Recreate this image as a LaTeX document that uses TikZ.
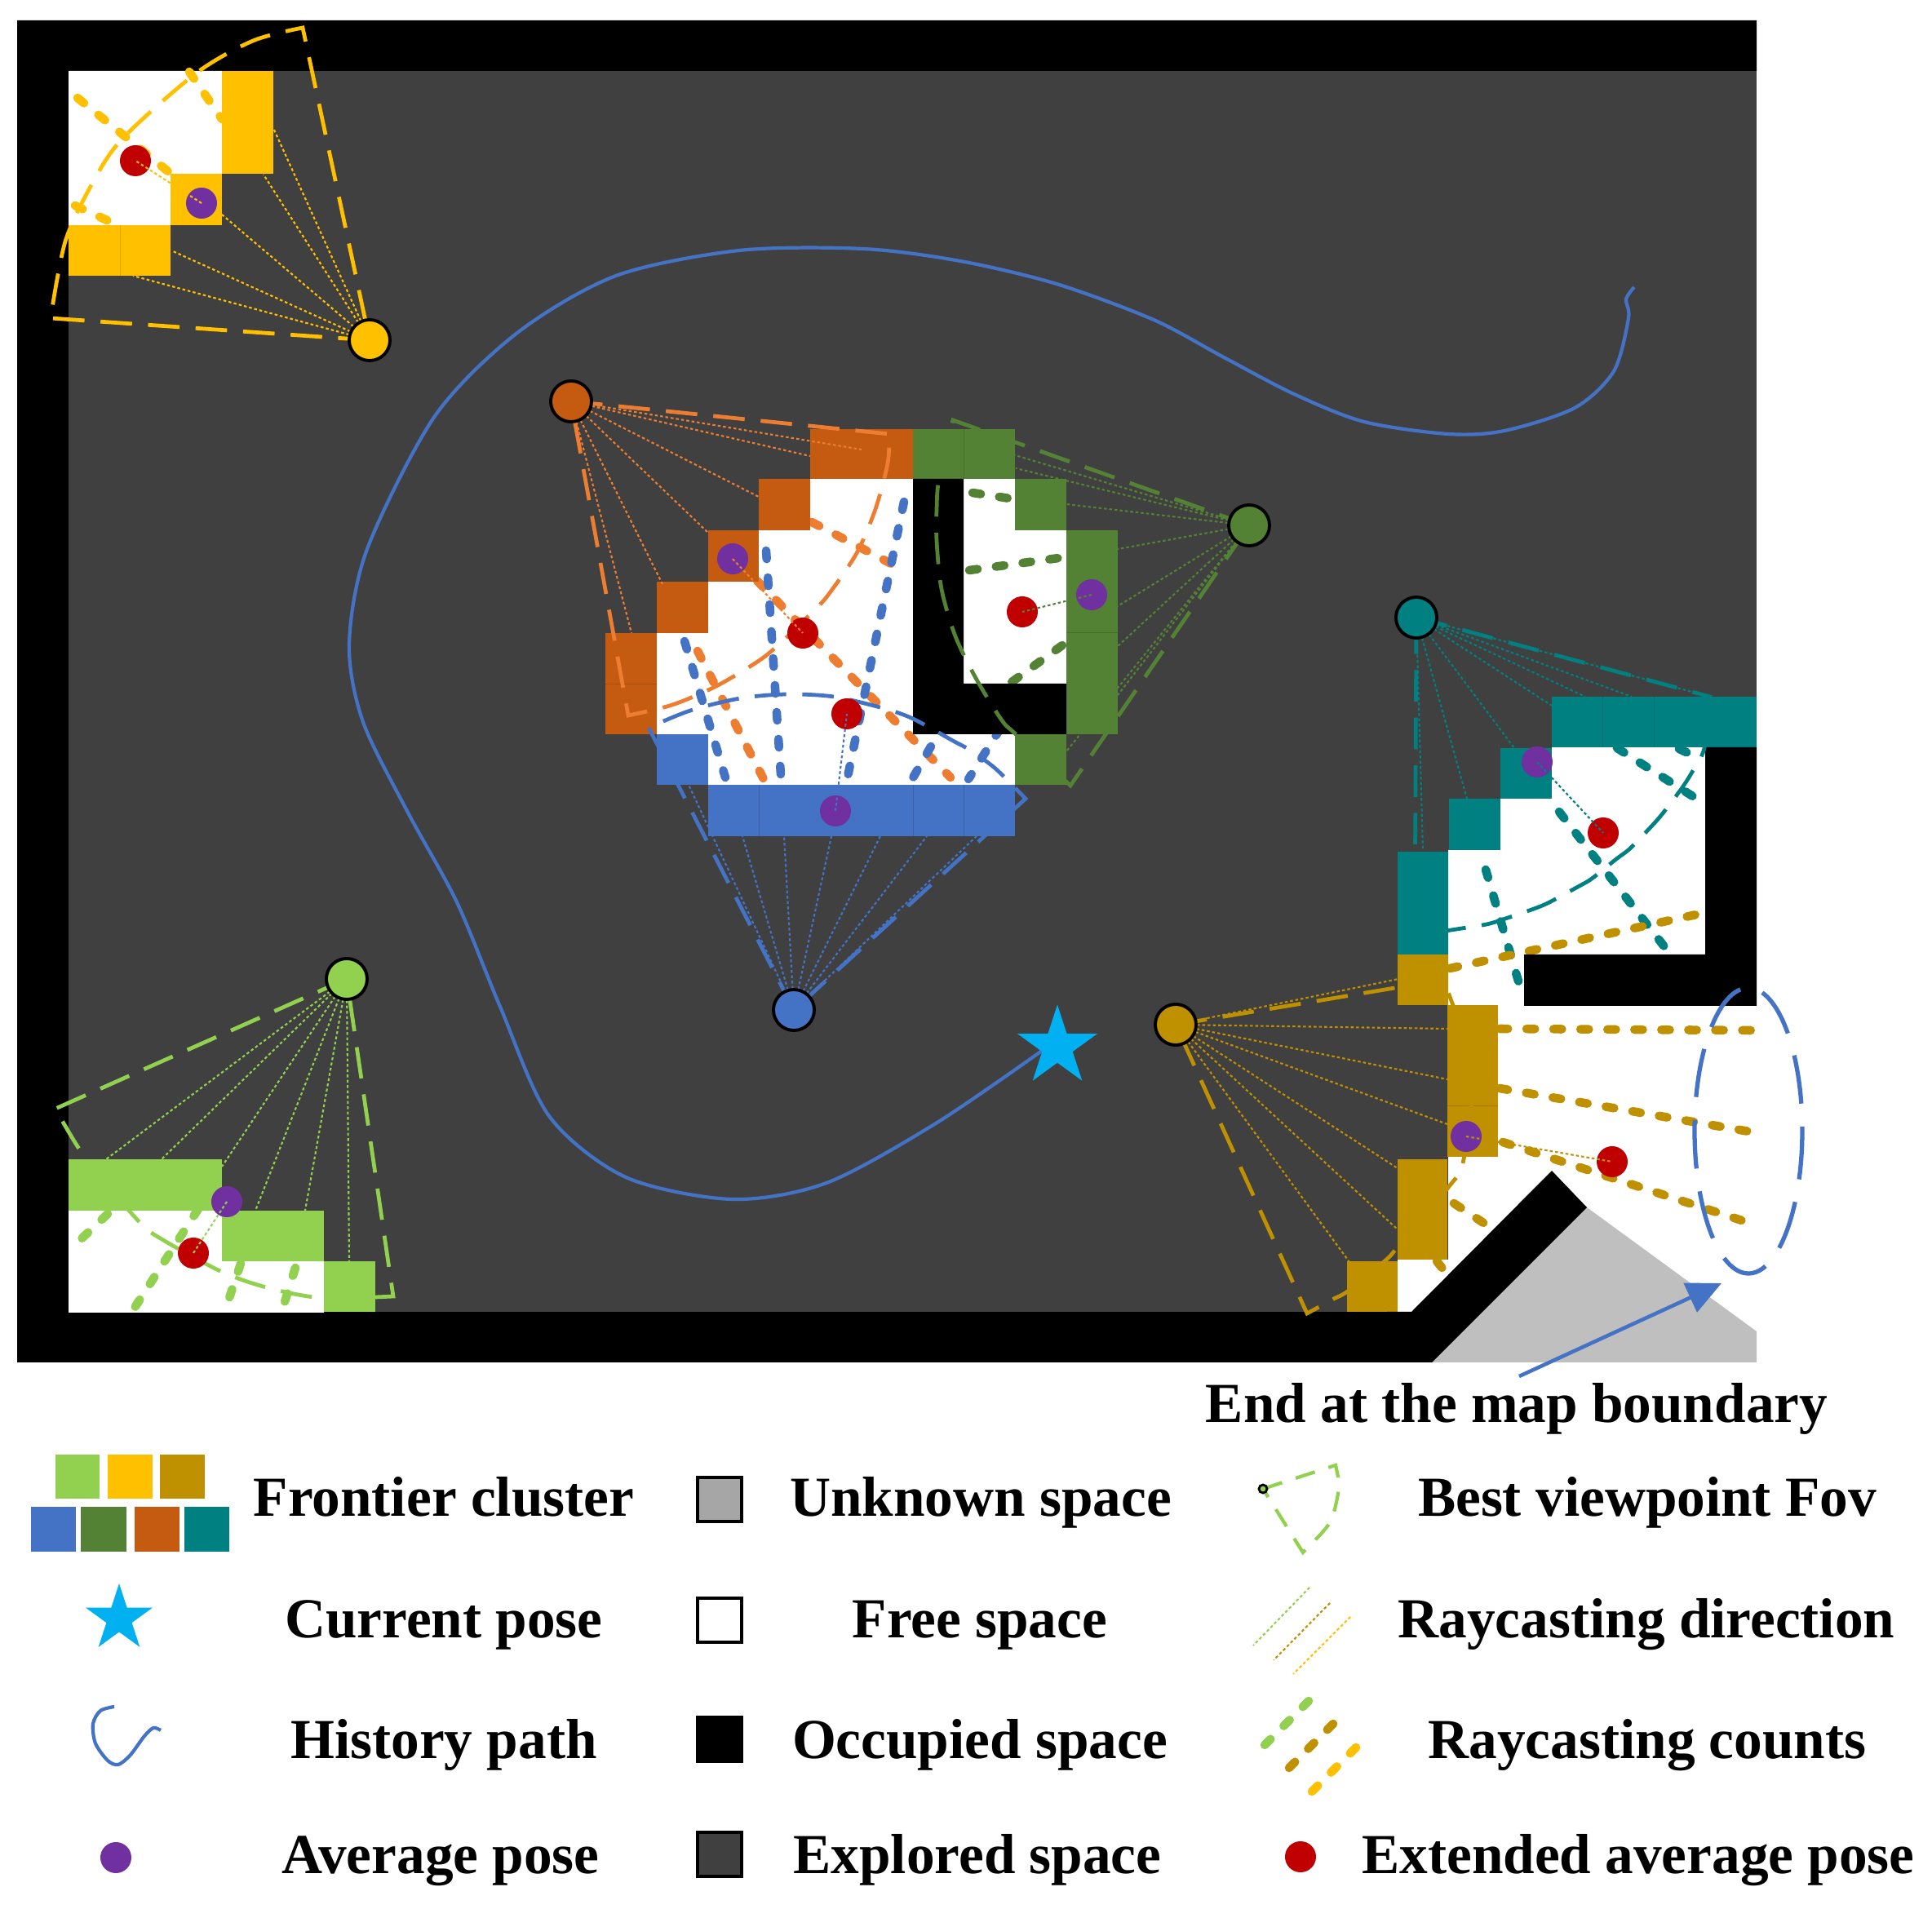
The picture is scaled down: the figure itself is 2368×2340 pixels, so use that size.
\documentclass[tikz,border=0pt]{standalone}
\usepackage{fontspec}
\setmainfont{Liberation Serif}
\usetikzlibrary{arrows.meta,shapes.geometric}
\definecolor{ExploredClr}{HTML}{404040}
\definecolor{UnknownClr}{HTML}{BFBFBF}
\definecolor{KeyGrayClr}{HTML}{A6A6A6}
\definecolor{YellowClr}{HTML}{FFC000}
\definecolor{LimeClr}{HTML}{92D050}
\definecolor{OchreClr}{HTML}{BF9000}
\definecolor{BlueClr}{HTML}{4472C4}
\definecolor{GreenClr}{HTML}{548235}
\definecolor{RustClr}{HTML}{C55A11}
\definecolor{OrangeClr}{HTML}{ED7D31}
\definecolor{TealClr}{HTML}{008080}
\definecolor{RedClr}{HTML}{C00000}
\definecolor{PurpleClr}{HTML}{7030A0}
\definecolor{StarClr}{HTML}{00B0F0}
\tikzset{
  fov/.style={line width=1.35pt,dash pattern=on 11pt off 5.6pt},
  ray/.style={line width=0.6pt,dash pattern=on 1pt off 0.85pt},
  counts/.style={line width=3pt,line cap=round,dash pattern=on 2.9pt off 6.5pt},
  seam/.style={line width=0.2pt},
  viewpoint/.style={circle,draw=black,line width=1.1pt,minimum size=0.5cm,inner sep=0pt},
  avgpose/.style={circle,fill=PurpleClr,minimum size=0.38cm,inner sep=0pt},
  extpose/.style={circle,fill=RedClr,minimum size=0.38cm,inner sep=0pt},
  keybox/.style={rectangle,draw=black,line width=1pt,minimum size=0.54cm,inner sep=0pt},
  keytext/.style={anchor=base,inner sep=0pt,font=\bfseries\fontsize{19.7}{22}\selectfont},
  pose/.style={star,star points=5,star point ratio=2.618,fill=StarClr,inner sep=0pt}
}

\begin{document}
\begin{tikzpicture}[x=0.01cm,y=-0.01cm]
\useasboundingbox (0,0) rectangle (2368,2340);

\coordinate (Y) at (453,417);
\coordinate (L) at (425,1200);
\coordinate (R) at (700,492);
\coordinate (G) at (1531,644);
\coordinate (B) at (973,1238);
\coordinate (T) at (1736,757);
\coordinate (O) at (1441,1256);

\fill[black] (21,25) -- (2153,25) -- (2153,87) -- (84,87) -- (84,1608) -- (1755,1608) -- (1755,1670) -- (21,1670) -- cycle;
\fill[ExploredClr] (84,87) rectangle (2153,1608);

\fill[white] (84,87) -- (272,87) -- (272,213) -- (209,213) -- (209,276) -- (84,276) -- cycle;
\fill[white] (84,1484) -- (272,1484) -- (272,1546) -- (397,1546) -- (397,1609) -- (84,1609) -- cycle;
\fill[white] (993,587) -- (1119,587) -- (1119,900) -- (1244,900) -- (1244,962) -- (868,962) -- (868,900) -- (805,900) -- (805,776) -- (868,776) -- (868,713) -- (930,713) -- (930,650) -- (993,650) -- cycle;
\fill[white] (1181,587) -- (1244,587) -- (1244,650) -- (1307,650) -- (1307,838) -- (1181,838) -- cycle;
\fill[white] (1902,916) -- (2090,916) -- (2090,1170) -- (1868,1170) -- (1868,1233) -- (2153,1233) -- (2153,1640) -- (1780,1640) -- (1728,1610) -- (1713,1610) -- (1713,1544) -- (1775,1544) -- (1775,1042) -- (1839,1042) -- (1839,979) -- (1902,979) -- cycle;
\fill[UnknownClr] (1945,1480) -- (2153,1632) -- (2153,1670) -- (1755,1670) -- cycle;

\draw[counts,YellowClr] (95,120) -- (212,215);
\draw[counts,YellowClr] (232,88) -- (272,146);
\draw[counts,YellowClr] (92,252) -- (140,274);

\draw[counts,LimeClr] (132,1488) -- (96,1522);
\draw[counts,LimeClr] (243,1482) -- (163,1606);
\draw[counts,LimeClr] (295,1549) -- (280,1594);
\draw[counts,LimeClr] (362,1554) -- (348,1599);

\draw[counts,OrangeClr] (995,640) -- (1100,695);
\draw[counts,OrangeClr] (928,712) -- (1165,953);
\draw[counts,OrangeClr] (855,798) -- (936,955);

\draw[counts,BlueClr] (839,786) -- (889,953);
\draw[counts,BlueClr] (939,675) -- (957,950);
\draw[counts,BlueClr] (1108,615) -- (1039,952);
\draw[counts,BlueClr] (1226,893) -- (1187,955);
\draw[counts,BlueClr] (1141,915) -- (1118,955);

\draw[counts,GreenClr] (1192,604) -- (1244,612);
\draw[counts,GreenClr] (1188,699) -- (1305,683);
\draw[counts,GreenClr] (1302,791) -- (1240,836);

\draw[counts,TealClr] (1982,917) -- (2084,982);
\draw[counts,TealClr] (2058,918) -- (2084,930);
\draw[counts,TealClr] (1911,995) -- (2042,1163);
\draw[counts,TealClr] (1821,1066) -- (1862,1206);

\draw[counts,OchreClr] (1777,1187) -- (2084,1120);
\draw[counts,OchreClr] (1838,1261) -- (2146,1263);
\draw[counts,OchreClr] (1838,1334) -- (2144,1387);
\draw[counts,OchreClr] (1842,1400) -- (2144,1499);
\draw[counts,OchreClr] (1782,1475) -- (1838,1512);
\draw[counts,OchreClr] (1761,1546) -- (1773,1561);

\foreach \xa/\ya/\xb/\yb in {272/87/335/213,209/213/272/276,84/276/209/338}
  \fill[YellowClr] (\xa,\ya) rectangle (\xb,\yb);
\foreach \xa/\ya/\xb/\yb in {84/1421/272/1484,272/1484/397/1546,397/1546/460/1608}
  \fill[LimeClr] (\xa,\ya) rectangle (\xb,\yb);
\foreach \xa/\ya/\xb/\yb in {993/526/1119/587,930/587/993/650,868/650/930/713,805/713/868/776,742/776/805/900}
  \fill[RustClr] (\xa,\ya) rectangle (\xb,\yb);
\foreach \xa/\ya/\xb/\yb in {1119/526/1244/587,1244/587/1307/650,1307/650/1370/900,1244/900/1307/962}
  \fill[GreenClr] (\xa,\ya) rectangle (\xb,\yb);
\foreach \xa/\ya/\xb/\yb in {805/900/868/962,868/962/1244/1025}
  \fill[BlueClr] (\xa,\ya) rectangle (\xb,\yb);
\foreach \xa/\ya/\xb/\yb in {1902/854/2153/916,1839/917/1902/979,1776/979/1839/1042,1713/1044/1775/1170}
  \fill[TealClr] (\xa,\ya) rectangle (\xb,\yb);
\foreach \xa/\ya/\xb/\yb in {1713/1170/1775/1232,1774/1232/1836/1418,1713/1421/1774/1544,1651/1546/1713/1608}
  \fill[OchreClr] (\xa,\ya) rectangle (\xb,\yb);

\foreach \xa/\ya/\xb/\yb/\clr in {147/276/147/338/YellowClr,742/838/805/838/RustClr,1307/775/1370/775/GreenClr,1181/526/1181/587/GreenClr,930/962/930/1025/BlueClr,1119/962/1119/1025/BlueClr,1181/962/1181/1025/BlueClr,1964/854/1964/916/TealClr,2027/854/2027/916/TealClr,1774/1355/1836/1355/OchreClr}
  \draw[seam,\clr!85!black] (\xa,\ya) -- (\xb,\yb);

\fill[black] (1119,587) -- (1181,587) -- (1181,838) -- (1307,838) -- (1307,900) -- (1119,900) -- cycle;
\fill[black] (2090,916) -- (2153,916) -- (2153,1233) -- (1868,1233) -- (1868,1170) -- (2090,1170) -- cycle;
\fill[black] (1700,1608) -- (1730,1608) -- (1902,1435) -- (1945,1480) -- (1755,1670) -- (1700,1670) -- cycle;

\draw[fov,YellowClr] (Y) -- (62,390) -- plot[smooth] coordinates {(62,390) (80,296) (113,225) (150,170) (240,90) (310,50) (371,34)} -- (Y);
\draw[fov,LimeClr] (L) -- (68,1359) -- plot[smooth] coordinates {(68,1359) (105,1420) (170,1497) (200,1520) (272,1559) (330,1579) (395,1591) (482,1589)} -- (L);
\draw[fov,OrangeClr] (R) -- (1090,532) -- plot[smooth] coordinates {(1090,532) (1088,568) (1073,624) (1050,678) (1016,728) (999,747) (958,787) (930,810) (878,841) (824,864) (770,877)} -- (R);
\draw[fov,GreenClr] (G) -- (1168,515) -- plot[smooth] coordinates {(1168,515) (1151,586) (1148,625) (1148,663) (1154,722) (1171,780) (1197,833) (1228,883) (1245,900) (1312,963)} -- (G);
\draw[fov,BlueClr] (B) -- (795,892) -- plot[smooth] coordinates {(795,892) (846,871) (907,856) (964,851) (1022,854) (1082,868) (1119,881) (1168,908) (1188,919) (1220,942) (1257,979)} -- (B);
\draw[fov,TealClr] (T) -- (2096,854) -- plot[smooth] coordinates {(2096,854) (2089,917) (2073,948) (2060,968) (2038,997) (2024,1013) (1998,1040) (1981,1053) (1951,1077) (1934,1087) (1899,1106) (1880,1114) (1842,1127) (1822,1133) (1785,1139) (1734,1147)} -- (T);
\draw[fov,OchreClr] (O) -- (1769,1201) -- plot[smooth] coordinates {(1769,1201) (1804,1310) (1794,1421) (1774,1457) (1712,1530) (1698,1545) (1653,1582) (1633,1593) (1602,1610)} -- (O);

\node[extpose] (redY) at (166,197) {};
\node[avgpose] (purY) at (247,249) {};
\node[extpose] (redL) at (237,1536) {};
\node[avgpose] (purL) at (278,1473) {};
\node[extpose] (redR) at (984,776) {};
\node[avgpose] (purR) at (898,685) {};
\node[extpose] (redB) at (1038,875) {};
\node[avgpose] (purB) at (1024,994) {};
\node[extpose] (redG) at (1253,750) {};
\node[avgpose] (purG) at (1338,729) {};
\node[extpose] (redT) at (1965,1021) {};
\node[avgpose] (purT) at (1884,934) {};
\node[extpose] (redO) at (1976,1424) {};
\node[avgpose] (purO) at (1797,1393) {};

\foreach \px/\py in {335/157,323/214,272/263,212/308,163/338}
  \draw[ray,YellowClr] (Y) -- (\px,\py);
\foreach \px/\py in {130/1421,198/1421,272/1430,313/1484,374/1484,428/1546}
  \draw[ray,LimeClr] (L) -- (\px,\py);
\foreach \px/\py in {1056/551,993/559,930/609,868/653,812/716,774/776}
  \draw[ray,OrangeClr] (R) -- (\px,\py);
\foreach \px/\py in {1244/558,1245/574,1307/618,1370/673,1370/743,1370/792,1370/852,1307/921}
  \draw[ray,GreenClr] (G) -- (\px,\py);
\foreach \px/\py in {844/962,910/1025,961/1025,1019/1025,1079/1025,1136/1025,1197/1025}
  \draw[ray,BlueClr] (B) -- (\px,\py);
\foreach \px/\py in {1744/1043,1798/979,1856/917,1902/865,1943/854,2000/854,2096/854}
  \draw[ray,TealClr] (T) -- (\px,\py);
\foreach \px/\py in {1714/1200,1774/1261,1774/1323,1774/1378,1713/1432,1713/1507,1654/1547}
  \draw[ray,OchreClr] (O) -- (\px,\py);

\draw[ray,YellowClr] (purY.center) -- (redY.center);
\draw[ray,LimeClr] (purL.center) -- (redL.center);
\draw[ray,OrangeClr] (purR.center) -- (redR.center);
\draw[ray,BlueClr] (purB.center) -- (redB.center);
\draw[ray,GreenClr] (purG.center) -- (redG.center);
\draw[ray,TealClr] (purT.center) -- (redT.center);
\draw[ray,OchreClr] (purO.center) -- (redO.center);

\node[viewpoint,fill=YellowClr] (vpY) at (Y) {};
\node[viewpoint,fill=LimeClr] (vpL) at (L) {};
\node[viewpoint,fill=RustClr] (vpR) at (R) {};
\node[viewpoint,fill=GreenClr] (vpG) at (G) {};
\node[viewpoint,fill=BlueClr] (vpB) at (B) {};
\node[viewpoint,fill=TealClr] (vpT) at (T) {};
\node[viewpoint,fill=OchreClr] (vpO) at (O) {};

\draw[BlueClr,line width=1.2pt] plot[smooth] coordinates {(1277,1288) (1147,1377) (1013,1450) (897,1470) (767,1443) (673,1368) (613,1234) (560,1106) (500,996) (445,885) (428,790) (450,673) (533,510) (634,408) (755,338) (906,307) (1058,305) (1177,320) (1295,348) (1414,392) (1500,438) (1586,483) (1672,517) (1775,532) (1844,528) (1930,500) (1978,455) (1996,390) (1993,367) (2003,352)};
\node[pose,minimum size=1.03cm] (poseMap) at (1296,1283) {};

\draw[BlueClr,line width=1.5pt,dash pattern=on 17pt off 8pt] (2143,1386) ellipse (66 and 175);
\coordinate (boundaryTail) at (1862,1687);
\coordinate (boundaryTip) at (2110,1573);
\draw[BlueClr,line width=1.3pt,-{Triangle[length=12pt,width=11pt]}] (boundaryTail) -- (boundaryTip);
\node[keytext] (txtBoundary) at (1859,1744) {End at the map boundary};

\foreach \xa/\xb/\clr in {68/122/LimeClr,132/187/YellowClr,196/251/OchreClr}
  \fill[\clr] (\xa,1783) rectangle (\xb,1837);
\foreach \xa/\xb/\clr in {38/93/BlueClr,99/155/GreenClr,165/220/RustClr,226/281/TealClr}
  \fill[\clr] (\xa,1847) rectangle (\xb,1902);
\node[pose,minimum size=0.86cm] (poseKey) at (146,1984) {};
\draw[BlueClr,line width=1.2pt] plot[smooth] coordinates {(140,2092) (123,2097) (114,2113) (117,2137) (132,2158) (145,2163) (160,2151) (177,2128) (188,2118) (197,2121)};
\node[avgpose] (avgKey) at (142,2277) {};

\node[keytext] (txtFrontier) at (544,1859) {Frontier cluster};
\node[keytext] (txtCurrent) at (544,2007) {Current pose};
\node[keytext] (txtHistory) at (544,2155) {History path};
\node[keytext] (txtAverage) at (540,2296) {Average pose};

\node[keybox,fill=KeyGrayClr] (keyUnknown) at (882,1838) {};
\node[keybox,fill=white] (keyFree) at (882,1986) {};
\node[keybox,fill=black] (keyOccupied) at (882,2132) {};
\node[keybox,fill=ExploredClr] (keyExplored) at (882,2273) {};

\node[keytext] (txtUnknown) at (1202,1859) {Unknown space};
\node[keytext] (txtFree) at (1201,2007) {Free space};
\node[keytext] (txtOccupied) at (1201,2155) {Occupied space};
\node[keytext] (txtExplored) at (1198,2296) {Explored space};

\coordinate (K) at (1548,1825);
\draw[fov,LimeClr,line width=1.2pt,dash pattern=on 7pt off 5pt] (K) -- (1637,1796) -- plot[smooth] coordinates {(1637,1796) (1641,1823) (1633,1860) (1621,1878) (1597,1903)} -- (K);
\node[circle,draw=black,fill=LimeClr,line width=0.8pt,minimum size=0.1cm,inner sep=0pt] (vpKey) at (K) {};

\draw[ray,LimeClr] (1605,1946) -- (1536,2017);
\draw[ray,OchreClr] (1630,1965) -- (1561,2035);
\draw[ray,YellowClr] (1655,1982) -- (1585,2052);

\draw[counts,LimeClr] (1604,2085) -- (1547,2142);
\draw[counts,OchreClr] (1634,2113) -- (1577,2170);
\draw[counts,YellowClr] (1662,2142) -- (1605,2199);

\node[extpose] (extKey) at (1594,2276) {};

\node[keytext] (txtFov) at (2019,1859) {Best viewpoint Fov};
\node[keytext] (txtDirection) at (2018,2007) {Raycasting direction};
\node[keytext] (txtCounts) at (2019,2155) {Raycasting counts};
\node[keytext] (txtExtended) at (2008,2296) {Extended average pose};

\end{tikzpicture}
\end{document}
